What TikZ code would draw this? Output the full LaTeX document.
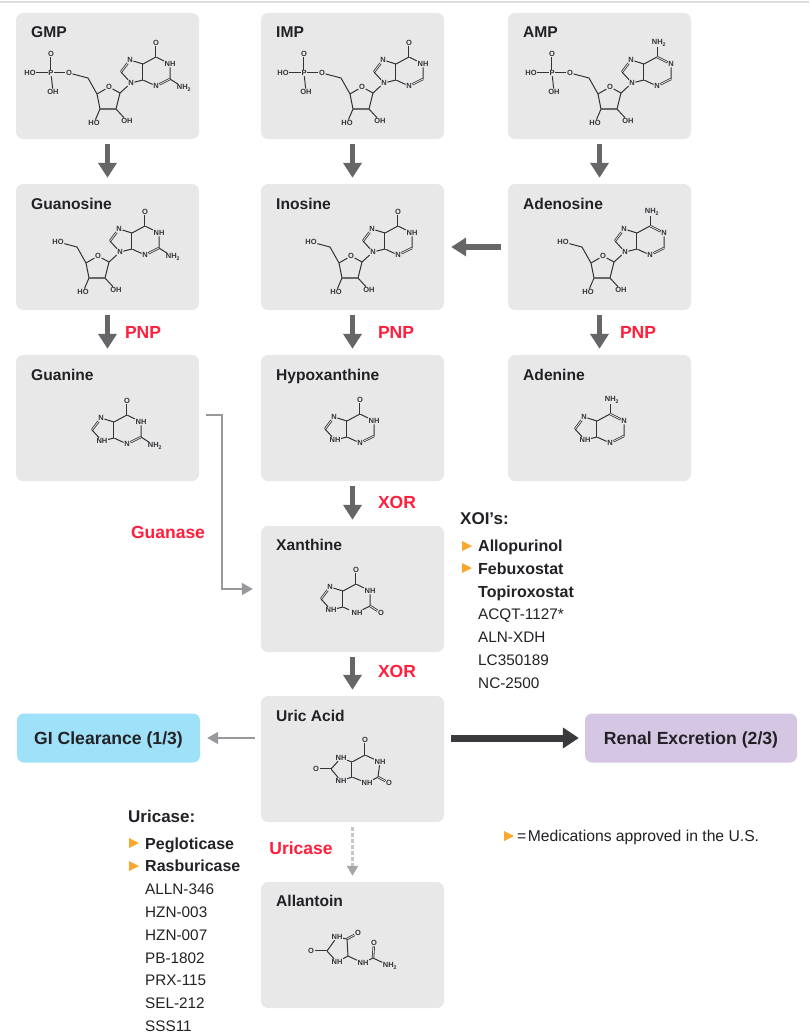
\documentclass[tikz,border=0pt]{standalone}
\usepackage{fontspec}
\setmainfont{Liberation Sans}
\usetikzlibrary{arrows.meta,calc}
\definecolor{boxgray}{HTML}{E8E8E9}
\definecolor{bondc}{HTML}{333338}
\definecolor{arrowgray}{HTML}{666668}
\definecolor{thingray}{HTML}{98989D}
\definecolor{darkarrow}{HTML}{3A3A3C}
\definecolor{enzred}{HTML}{FF1F3D}
\definecolor{medorange}{HTML}{FBA62E}
\definecolor{gifill}{HTML}{9FE1F8}
\definecolor{renalfill}{HTML}{D5C7E4}
\definecolor{txt}{HTML}{222226}
\tikzset{
  x=1pt,y=-1pt,
  cbox/.style={fill=boxgray,rounded corners=7pt,minimum width=183pt,minimum height=126pt,inner sep=0pt},
  outbox/.style={rounded corners=7pt,minimum height=49pt,inner sep=0pt,text=txt,text height=15pt,text depth=3pt,font=\fontsize{17.6}{18}\selectfont\bfseries},
  boxtitle/.style={anchor=base west,inner sep=0pt,text=txt,font=\fontsize{15.6}{16}\selectfont\bfseries},
  enzyme/.style={inner sep=0pt,text=enzred,font=\fontsize{17.5}{18}\selectfont\bfseries},
  listhead/.style={anchor=base west,inner sep=0pt,text=txt,font=\fontsize{17}{17}\selectfont\bfseries},
  listbold/.style={anchor=base west,inner sep=0pt,text=txt,font=\fontsize{16}{16}\selectfont\bfseries},
  listitem/.style={anchor=base west,inner sep=0pt,text=txt,font=\fontsize{15.3}{16}\selectfont},
  legend/.style={anchor=base west,inner sep=0pt,text=txt,font=\fontsize{15.7}{16}\selectfont},
  atom/.style={inner sep=.5pt,text=bondc,font=\fontsize{7.5}{8}\selectfont\bfseries},
  bond/.style={draw=bondc,line width=1pt},
  dbl/.style={draw=bondc,line width=.8pt,double=boxgray,double distance=.8pt},
  sgl/.style={},
  fatarrow/.style={draw=arrowgray,line width=5.5pt,shorten <=5pt,shorten >=6pt,-{Triangle[length=15pt,width=18pt]}},
  thinarrow/.style={draw=thingray,line width=2pt,-{Triangle[length=11pt,width=12pt]}},
  medmark/.style={fill=medorange}
}
% bonds of ribose, drawn in the purine's scope
\newcommand{\riboseatoms}[1]{%
  \coordinate (c1r) at (-36,36);
  \node[atom] (o4r) at (-47,30) {O};
  \coordinate (c4r) at (-59,37);
  \coordinate (c3r) at (-56,52);
  \coordinate (c2r) at (-40,52);
  \node[atom] (oh3) at (-62,66) {HO};
  \node[atom] (oh2) at (-29,64) {OH};
  \coordinate (c5r) at (-68,21);
  \node[atom] (o5r) at (-87,16) {#1};
  \draw[bond] (n9)--(c1r)--(o4r)--(c4r)--(c3r);
  \draw[bond] (c1r)--(c2r);
  \draw[bond,line width=1.6pt,draw=bondc!70!boxgray] (c3r)--(c2r);
  \draw[bond] (c3r)--(oh3);
  \draw[bond] (c2r)--(oh2);
  \draw[bond] (c4r)--(c5r)--(o5r);
}
\newcommand{\phosphate}{%
  \node[atom] (p) at (-105,16) {P};
  \node[atom] (pdo) at (-105,-3) {O};
  \node[atom] (pho) at (-126,16) {HO};
  \node[atom] (poh) at (-103,35) {OH};
  \draw[bond] (o5r)--(p);
  \draw[bond] (p)--(pho);
  \draw[bond] (p)--(poh);
  \draw[dbl] (p)--(pdo);
}
\newcommand{\aminotwo}{%
  \node[atom] (nh2) at (28,31) {NH\textsubscript{2}};
  \draw[bond] (c2)--(nh2);
}
% #1 prefix, #2 position of C6, #3 C6 substituent, #4 its bond, #5 N1, #6 N3, #7 C2-N3 bond, #8 N9, #9 extras
\newcommand{\purine}[9]{%
  \begin{scope}[shift={(#2)},name prefix=#1-]
    \coordinate (c6) at (0,0);
    \node[atom] (o6) at (0,-14) {#3};
    \node[atom] (n1) at (14,7) {#5};
    \coordinate (c2) at (14,22);
    \node[atom] (n3) at (0,29) {#6};
    \coordinate (c4) at (-13,23);
    \coordinate (c5) at (-13,7);
    \node[atom] (n7) at (-26,3) {N};
    \coordinate (c8) at (-35,15);
    \node[atom] (n9) at (-25,26) {#8};
    \draw[bond] (c6)--(n1)--(c2);
    \draw[bond,#7] (c2)--(n3);
    \draw[bond] (n3)--(c4);
    \draw[dbl] (c4)--(c5);
    \draw[bond] (c5)--(c6);
    \draw[bond] (c5)--(n7);
    \draw[dbl] (n7)--(c8);
    \draw[bond] (c8)--(n9)--(c4);
    \draw[bond,#4] (c6)--(o6);
    #9
  \end{scope}%
}
\newcommand{\medmarker}[2]{\fill[medmark] (#1,#2-5) -- (#1+10,#2) -- (#1,#2+5) -- cycle;}
\begin{document}
\begin{tikzpicture}
\useasboundingbox (0,0) rectangle (809,1033);
\fill[white] (0,0) rectangle (809,1033);
\draw[draw=black!13,line width=2pt] (0,2) -- (809,2);

% boxes
\node[cbox] (gmp) at (107.5,76) {};
\node[cbox] (imp) at (352.5,76) {};
\node[cbox] (amp) at (599.5,76) {};
\node[cbox] (guanosine) at (107.5,247) {};
\node[cbox] (inosine) at (352.5,247) {};
\node[cbox] (adenosine) at (599.5,247) {};
\node[cbox] (guanine) at (107.5,418) {};
\node[cbox] (hypoxanthine) at (352.5,418) {};
\node[cbox] (adenine) at (599.5,418) {};
\node[cbox] (xanthine) at (352.5,589) {};
\node[cbox] (uric) at (352.5,759) {};
\node[cbox] (allantoin) at (352.5,945) {};
\node[outbox,fill=gifill,minimum width=183pt] (gi) at (108.5,738) {GI Clearance (1/3)};
\node[outbox,fill=renalfill,minimum width=212pt] (renal) at (691,738) {Renal Excretion (2/3)};

% titles
\node[boxtitle] (t1) at (31,38) {GMP};
\node[boxtitle] (t2) at (276,38) {IMP};
\node[boxtitle] (t3) at (523,38) {AMP};
\node[boxtitle] (t4) at (31,209) {Guanosine};
\node[boxtitle] (t5) at (276,209) {Inosine};
\node[boxtitle] (t6) at (523,209) {Adenosine};
\node[boxtitle] (t7) at (31,380) {Guanine};
\node[boxtitle] (t8) at (276,380) {Hypoxanthine};
\node[boxtitle] (t9) at (523,380) {Adenine};
\node[boxtitle] (t10) at (276,550) {Xanthine};
\node[boxtitle] (t11) at (276,721) {Uric Acid};
\node[boxtitle] (t12) at (276,906) {Allantoin};

% molecules
\purine{mgmp}{156,57}{O}{dbl}{NH}{N}{dbl}{N}{\aminotwo\riboseatoms{O}\phosphate}
\purine{mimp}{409,57}{O}{dbl}{NH}{N}{dbl}{N}{\riboseatoms{O}\phosphate}
\purine{mamp}{657,57}{\hspace{4pt}NH\textsubscript{2}}{sgl}{N}{N}{dbl}{N}{\draw[dbl] (c6)--(n1);\riboseatoms{O}\phosphate}
\purine{mguo}{145,226}{O}{dbl}{NH}{N}{dbl}{N}{\aminotwo\riboseatoms{HO}}
\purine{mino}{398,226}{O}{dbl}{NH}{N}{dbl}{N}{\riboseatoms{HO}}
\purine{mado}{650,226}{\hspace{4pt}NH\textsubscript{2}}{sgl}{N}{N}{dbl}{N}{\draw[dbl] (c6)--(n1);\riboseatoms{HO}}
\purine{mgua}{127,415}{O}{dbl}{NH}{N}{dbl}{NH}{\aminotwo}
\purine{mhyp}{360,414}{O}{dbl}{NH}{N}{dbl}{NH}{}
\purine{made}{610,414}{\hspace{4pt}NH\textsubscript{2}}{sgl}{N}{N}{dbl}{NH}{\draw[dbl] (c6)--(n1);}
\purine{mxan}{356,584}{O}{dbl}{NH}{\hspace{2pt}NH}{sgl}{NH}{%
  \node[atom] (o2) at (25,29) {O};
  \draw[dbl] (c2)--(o2);}

% uric acid
\begin{scope}[shift={(365,755)},name prefix=muric-]
  \coordinate (c6) at (0,0);
  \node[atom] (o6) at (0,-15) {O};
  \node[atom] (n1) at (15,7) {NH};
  \coordinate (c2) at (13,22);
  \node[atom] (o2) at (24,28) {O};
  \node[atom] (n3) at (2,28) {NH};
  \coordinate (c4) at (-13,22);
  \coordinate (c5) at (-13,7);
  \node[atom] (n7) at (-24,3) {NH};
  \coordinate (c8) at (-34,14);
  \node[atom] (o8) at (-49,14) {O};
  \node[atom] (n9) at (-24,26) {NH};
  \draw[bond] (c5)--(c6)--(n1)--(c2)--(n3)--(c4);
  \draw[dbl] (c4)--(c5);
  \draw[bond] (c5)--(n7)--(c8)--(n9)--(c4);
  \draw[dbl] (c6)--(o6);
  \draw[dbl] (c2)--(o2);
  \draw[dbl] (c8)--(o8);
\end{scope}

% allantoin
\begin{scope}[name prefix=malla-]
  \node[atom] (o5) at (358,933) {O};
  \coordinate (c5) at (347,939);
  \node[atom] (n1) at (337,937) {NH};
  \coordinate (c2) at (327,951);
  \node[atom] (o2) at (311,951) {O};
  \node[atom] (n3) at (337,962) {NH};
  \coordinate (c4) at (348,956);
  \node[atom] (nu) at (363,963) {NH};
  \coordinate (cu) at (373,958);
  \node[atom] (ou) at (374,943) {O};
  \node[atom] (nh) at (390,966) {NH\textsubscript{2}};
  \draw[dbl] (c5)--(o5);
  \draw[bond] (c5)--(n1)--(c2)--(n3)--(c4)--(c5);
  \draw[dbl] (c2)--(o2);
  \draw[bond] (c4)--(nu)--(cu)--(nh);
  \draw[dbl] (cu)--(ou);
\end{scope}

% pathway arrows
\draw[fatarrow] (gmp.south) -- (guanosine.north);
\draw[fatarrow] (imp.south) -- (inosine.north);
\draw[fatarrow] (amp.south) -- (adenosine.north);
\draw[fatarrow] (guanosine.south) -- (guanine.north);
\draw[fatarrow] (inosine.south) -- (hypoxanthine.north);
\draw[fatarrow] (adenosine.south) -- (adenine.north);
\draw[fatarrow] (hypoxanthine.south) -- (xanthine.north);
\draw[fatarrow] (xanthine.south) -- (uric.north);
\draw[fatarrow,shorten <=7pt,shorten >=7pt] (adenosine.west) -- (inosine.east);
\draw[thinarrow] ([xshift=7pt,yshift=3pt]guanine.east) -| (222,589) -- ([xshift=-8pt]xanthine.west);
\draw[thinarrow,shorten <=6pt,shorten >=7pt] ([yshift=21pt]uric.west) -- (gi.east);
\draw[draw=darkarrow,line width=7pt,shorten <=7pt,shorten >=6pt,-{Triangle[length=16pt,width=20pt]}] ([yshift=21pt]uric.east) -- (renal.west);
\draw[draw=black!22,line width=2.2pt,dash pattern=on 3.5pt off 2.5pt,shorten <=5pt,shorten >=6pt,-{Triangle[length=10pt,width=11pt,color=black!35]}] (uric.south) -- (allantoin.north);

% enzymes
\node[enzyme] (e1) at (143,332) {PNP};
\node[enzyme] (e2) at (396,332) {PNP};
\node[enzyme] (e3) at (638,332) {PNP};
\node[enzyme] (e4) at (397,502) {XOR};
\node[enzyme] (e5) at (397,671) {XOR};
\node[enzyme] (e6) at (168,532) {Guanase};
\node[enzyme] (e7) at (301,848) {Uricase};

% XOI list
\node[listhead] (xh) at (460,524) {XOI’s:};
\medmarker{462}{546}
\medmarker{462}{568}
\node[listbold] (x1) at (478,551) {Allopurinol};
\node[listbold] (x2) at (478,574) {Febuxostat};
\node[listbold] (x3) at (478,597) {Topiroxostat};
\node[listitem] (x4) at (478,619) {ACQT-1127*};
\node[listitem] (x5) at (478,642) {ALN-XDH};
\node[listitem] (x6) at (478,665) {LC350189};
\node[listitem] (x7) at (478,688) {NC-2500};

% Uricase list
\node[listhead] (uh) at (128,822) {Uricase:};
\medmarker{129}{843}
\medmarker{129}{866}
\node[listbold] (u1) at (145,849) {Pegloticase};
\node[listbold] (u2) at (145,871) {Rasburicase};
\node[listitem] (u3) at (145,894) {ALLN-346};
\node[listitem] (u4) at (145,917) {HZN-003};
\node[listitem] (u5) at (145,940) {HZN-007};
\node[listitem] (u6) at (145,963) {PB-1802};
\node[listitem] (u7) at (145,985) {PRX-115};
\node[listitem] (u8) at (145,1008) {SEL-212};
\node[listitem] (u9) at (145,1031) {SSS11};

% legend
\medmarker{504}{836}
\node[legend] (lg) at (517,841) {=\hspace{1.5pt}Medications approved in the U.S.};
\end{tikzpicture}
\end{document}
